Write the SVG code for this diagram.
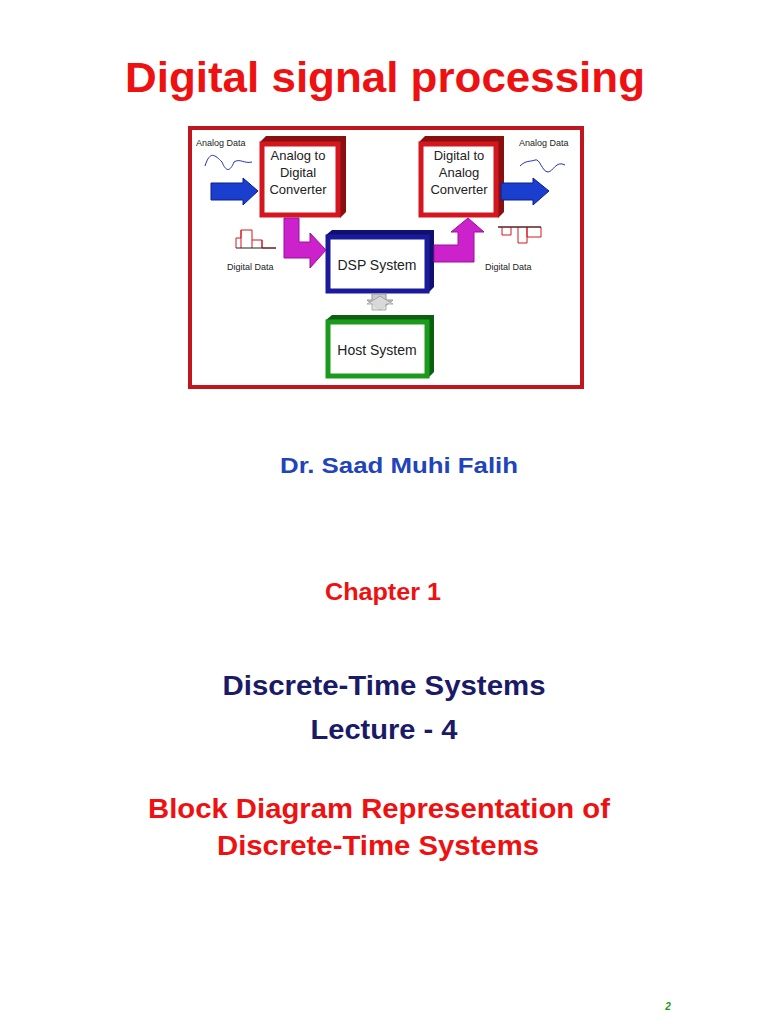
<svg xmlns="http://www.w3.org/2000/svg" width="768" height="1024" viewBox="0 0 768 1024">
<style>
.t{font-family:"Liberation Sans",Arial,sans-serif;font-weight:bold;text-anchor:middle}
.s{font-family:"Liberation Sans",Arial,sans-serif;fill:#222}
.b{fill:#fff;stroke-width:5}
</style>
<rect width="768" height="1024" fill="#fff"/>
<text class="t" x="385" y="92" font-size="43" fill="#ee1111" textLength="520" lengthAdjust="spacingAndGlyphs">Digital signal processing</text>
<g id="frame"><rect x="190" y="128" width="392" height="259" fill="#fff" stroke="#c0161e" stroke-width="4"/></g>
<g id="adc">
<polygon points="260,142 266,136 346,136 346,212 340,218 340,142" fill="#8a1010"/>
<rect class="b" x="262" y="144" width="76" height="71" stroke="#d4161e"/>
<text class="s" x="298" y="160" font-size="13" text-anchor="middle">Analog to</text>
<text class="s" x="298" y="177" font-size="13" text-anchor="middle">Digital</text>
<text class="s" x="298" y="194" font-size="13" text-anchor="middle">Converter</text>
</g>
<g id="dac">
<polygon points="419,142 425,136 504,136 504,212 498,218 498,142" fill="#8a1010"/>
<rect class="b" x="421" y="144" width="75" height="71" stroke="#d4161e"/>
<text class="s" x="459" y="160" font-size="13" text-anchor="middle">Digital to</text>
<text class="s" x="459" y="177" font-size="13" text-anchor="middle">Analog</text>
<text class="s" x="459" y="194" font-size="13" text-anchor="middle">Converter</text>
</g>
<g id="dsp">
<polygon points="326,235 332,230 434,230 434,287 428,293 428,235" fill="#101070"/>
<rect class="b" x="328" y="237" width="99" height="54" stroke="#1a1a9a"/>
<text class="s" x="377" y="270" font-size="14" text-anchor="middle">DSP System</text>
</g>
<g id="host">
<polygon points="326,320 332,315 434,315 434,372 428,378 428,320" fill="#0a6010"/>
<rect class="b" x="328" y="322" width="99" height="54" stroke="#1c9a1c"/>
<text class="s" x="377" y="355" font-size="14" text-anchor="middle">Host System</text>
</g>
<g id="connectors">
<polygon points="211,183 243,183 243,178 258,191 243,205 243,200 211,200" fill="#1a3fcf" stroke="#0a1f8f"/>
<polygon points="501,183 533,183 533,178 549,191 533,205 533,200 501,200" fill="#1a3fcf" stroke="#0a1f8f"/>
<polygon points="284,218 299,218 299,242 310,242 310,233 326,250 310,268 310,258 284,258" fill="#cc22cc" stroke="#991199"/>
<polygon points="434,245 458,245 458,232 451,232 468,218 484,232 474,232 474,262 434,262" fill="#cc22cc" stroke="#991199"/>
<polygon points="372,294 386,294 386,300 393,300 380,310 367,300 372,300" fill="#ccc" stroke="#999"/>
<polygon points="372,310 386,310 386,304 393,304 380,296 367,304 372,304" fill="#ddd" stroke="#999" opacity="0.8"/>
</g>
<g id="labels">
<text class="s" x="196" y="146" font-size="9">Analog Data</text>
<text class="s" x="519" y="146" font-size="9">Analog Data</text>
<text class="s" x="227" y="270" font-size="9">Digital Data</text>
<text class="s" x="485" y="270" font-size="9">Digital Data</text>
<path d="M205,166 C210,150 215,155 222,162 C226,172 230,172 234,162 C240,158 244,164 252,162" fill="none" stroke="#2233aa"/>
<path d="M520,166 C526,160 530,162 535,160 C540,158 542,172 548,172 C553,172 556,160 565,165" fill="none" stroke="#2233aa"/>
<path d="M236,248 V238 H241 V230 H252 V248 M241,248 V230 M252,240 H262 V248 M262,240 V248 H276" fill="none" stroke="#d4161e"/>
<path d="M236,248 H276" stroke="#222"/>
<path d="M498,227 H541 M502,227 V235 H511 V227 M518,227 V243 H527 V227 M527,227 V237 H541 V227" fill="none" stroke="#d4161e"/>
<path d="M498,227 H541" stroke="#222"/>
</g>
<text class="t" x="399" y="473" font-size="22" fill="#2244bb" textLength="238" lengthAdjust="spacingAndGlyphs">Dr. Saad Muhi Falih</text>
<text class="t" x="383" y="600" font-size="23" fill="#ee1111" textLength="116" lengthAdjust="spacingAndGlyphs">Chapter 1</text>
<text class="t" x="384" y="695" font-size="28" fill="#1a1a66" textLength="323" lengthAdjust="spacingAndGlyphs">Discrete-Time Systems</text>
<text class="t" x="384" y="739" font-size="28" fill="#1a1a66" textLength="147" lengthAdjust="spacingAndGlyphs">Lecture - 4</text>
<text class="t" x="379" y="818" font-size="28" fill="#ee1111" textLength="462" lengthAdjust="spacingAndGlyphs">Block Diagram Representation of</text>
<text class="t" x="378" y="855" font-size="28" fill="#ee1111" textLength="322" lengthAdjust="spacingAndGlyphs">Discrete-Time Systems</text>
<text class="t" x="668" y="1010" font-size="10" fill="#229922" font-style="italic">2</text>
</svg>
